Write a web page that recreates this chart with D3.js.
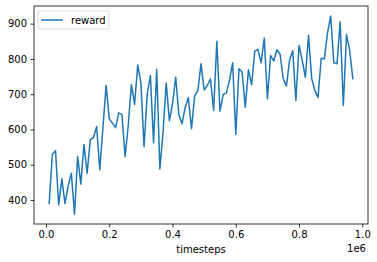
<!DOCTYPE html>
<html>
<head>
<meta charset="utf-8">
<script src="https://cdn.jsdelivr.net/npm/d3@7"></script>
<style>
  body { margin: 0; background: #fff; }
  text { font-family: "DejaVu Sans", sans-serif; }
</style>
</head>
<body>
<div id="chart"></div>
<script>
// timesteps (in units of 1e6) and reward per evaluation
var timesteps = [
  0.01, 0.02, 0.03, 0.04, 0.05, 0.06, 0.07, 0.08, 0.09, 0.10,
  0.11, 0.12, 0.13, 0.14, 0.15, 0.16, 0.17, 0.18, 0.19, 0.20,
  0.21, 0.22, 0.23, 0.24, 0.25, 0.26, 0.27, 0.28, 0.29, 0.30,
  0.31, 0.32, 0.33, 0.34, 0.35, 0.36, 0.37, 0.38, 0.39, 0.40,
  0.41, 0.42, 0.43, 0.44, 0.45, 0.46, 0.47, 0.48, 0.49, 0.50,
  0.51, 0.52, 0.53, 0.54, 0.55, 0.56, 0.57, 0.58, 0.59, 0.60,
  0.61, 0.62, 0.63, 0.64, 0.65, 0.66, 0.67, 0.68, 0.69, 0.70,
  0.71, 0.72, 0.73, 0.74, 0.75, 0.76, 0.77, 0.78, 0.79, 0.80,
  0.81, 0.82, 0.83, 0.84, 0.85, 0.86, 0.87, 0.88, 0.89, 0.90,
  0.91, 0.92, 0.93, 0.94, 0.95, 0.96, 0.97
];
var reward = [
  390, 529, 540, 386, 460, 390, 440, 476, 360, 523,
  445, 557, 476, 571, 577, 608, 486, 606, 725, 630,
  618, 605, 647, 642, 523, 612, 727, 671, 783, 732,
  551, 701, 753, 562, 770, 488, 592, 732, 625, 673,
  748, 642, 616, 663, 690, 602, 696, 709, 786, 712,
  725, 743, 654, 850, 652, 699, 703, 739, 789, 586,
  772, 763, 663, 769, 727, 822, 827, 789, 859, 687,
  810, 794, 826, 813, 744, 723, 796, 824, 682, 838,
  796, 748, 867, 744, 710, 691, 802, 800, 873, 922,
  789, 786, 905, 668, 869, 824, 744
];
var xTicks = [0.0, 0.2, 0.4, 0.6, 0.8, 1.0];
var yTicks = [400, 500, 600, 700, 800, 900];
var seriesName = "reward";

var W = 377, H = 262;
var margin = { top: 6, right: 9, bottom: 38, left: 34 },
  width = W - margin.left - margin.right,
  height = H - margin.top - margin.bottom;

var data = timesteps.map(function(t, i) {
  return { x: t, y: reward[i] };
});

// matplotlib style 5% margins around the data
function padded(ext) {
  var d = (ext[1] - ext[0]) * 0.05;
  return [ext[0] - d, ext[1] + d];
}

var x = d3.scaleLinear()
  .domain(padded(d3.extent(timesteps)))
  .range([0, width]);
var y = d3.scaleLinear()
  .domain(padded(d3.extent(reward)))
  .range([height, 0]);

var svg = d3.select("#chart").append("svg")
  .attr("width", W)
  .attr("height", H)
  .append("g")
  .attr("transform", "translate(" + margin.left + "," + margin.top + ")");

var line = d3.line()
  .x(function(d) { return x(d.x); })
  .y(function(d) { return y(d.y); });

svg.append("path")
  .datum(data)
  .attr("fill", "none")
  .attr("stroke", "#1f77b4")
  .attr("stroke-width", 1.5)
  .attr("stroke-linejoin", "round")
  .attr("stroke-linecap", "square")
  .attr("d", line);

// axes
var xAxis = svg.append("g")
  .attr("transform", "translate(0," + height + ")")
  .call(d3.axisBottom(x).tickValues(xTicks).tickSize(3.5).tickPadding(3.5)
    .tickFormat(d3.format(".1f")));
var yAxis = svg.append("g")
  .call(d3.axisLeft(y).tickValues(yTicks).tickSize(3.5).tickPadding(3.5)
    .tickFormat(d3.format("d")));

[xAxis, yAxis].forEach(function(a) {
  a.select(".domain").remove();
  a.selectAll("line").attr("stroke", "#000").attr("stroke-width", 0.8);
  a.selectAll("text").attr("fill", "#000").style("font-size", "10px");
});

// frame
svg.append("rect")
  .attr("width", width)
  .attr("height", height)
  .attr("fill", "none")
  .attr("stroke", "#000")
  .attr("stroke-width", 0.8);

// labels
svg.append("text")
  .attr("x", width / 2)
  .attr("y", height + 29)
  .attr("text-anchor", "middle")
  .style("font-size", "10px")
  .text("timesteps");

svg.append("text")
  .attr("x", width - 2)
  .attr("y", height + 28)
  .attr("text-anchor", "end")
  .style("font-size", "10px")
  .text("1e6");

// legend
var lg = svg.append("g").attr("transform", "translate(4,5)");
lg.append("rect")
  .attr("width", 71)
  .attr("height", 18)
  .attr("rx", 2)
  .attr("fill", "#fff")
  .attr("fill-opacity", 0.8)
  .attr("stroke", "#d0d0d0")
  .attr("stroke-width", 0.8);
lg.append("line")
  .attr("x1", 3).attr("x2", 25)
  .attr("y1", 9).attr("y2", 9)
  .attr("stroke", "#1f77b4")
  .attr("stroke-width", 1.5);
lg.append("text")
  .attr("x", 33)
  .attr("y", 12.5)
  .style("font-size", "10px")
  .text(seriesName);
</script>
</body>
</html>
